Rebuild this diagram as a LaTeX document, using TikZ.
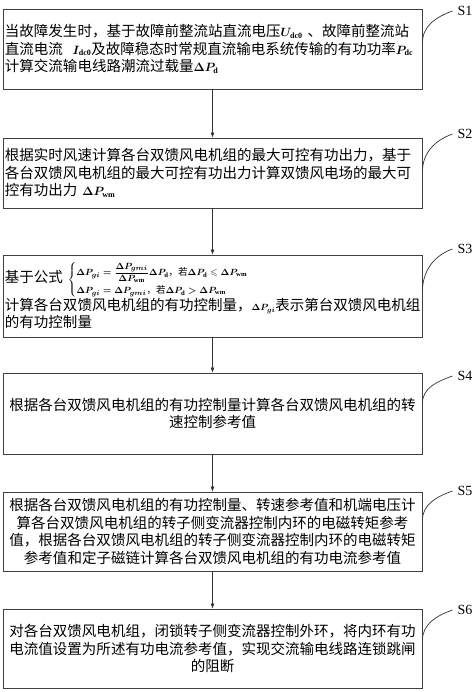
\documentclass[tikz,border=0pt]{standalone}
\usepackage{amsmath}
\usepackage{amssymb}
\usepackage{fontspec}
\setmainfont{Liberation Serif}
\newfontfamily\cjk{Noto Sans CJK SC}
\usetikzlibrary{arrows.meta}
\newcommand{\mq}[1]{{\fontsize{11.5}{12}\selectfont$#1$}}

\begin{document}
\begin{tikzpicture}[x=1pt, y=-1pt, >={Latex[length=5pt,width=4pt]},
  stepbox/.style={draw=black!75, line width=0.8pt, minimum width=419pt,
    inner xsep=2pt, text width=415pt, font=\cjk\fontsize{14.5}{17.5}\selectfont\boldmath},
  steplabel/.style={font=\fontsize{14}{16}\selectfont, inner sep=1pt},
  hook/.style={black!80, line width=0.7pt}]
  \useasboundingbox (0,0) rectangle (474,692);

  \node[stepbox, align=left, minimum height=80pt] (b1) at (212.5,49)
    {当故障发生时，基于故障前整流站直流电压\mq{U_{\mathrm{dc0}}} 、故障前整流站\\
     直流电流\ \ \mq{I_{\mathrm{dc0}}}及故障稳态时常规直流输电系统传输的有功功率\mq{P_{\mathrm{dc}}}\\
     计算交流输电线路潮流过载量\mq{\Delta P_{\mathrm{d}}}};
  \node[stepbox, align=left, minimum height=70pt] (b2) at (212.5,173)
    {根据实时风速计算各台双馈风电机组的最大可控有功出力，基于\\
     各台双馈风电机组的最大可控有功出力计算双馈风电场的最大可\\
     控有功出力 \mq{\Delta P_{\mathrm{wm}}}};
  \node[stepbox, align=left, minimum height=82pt] (b3) at (212.5,296)
    {基于公式 {\fontsize{9.5}{11}\selectfont$\left\{\begin{array}{@{}l@{}}
       \Delta P_{gi}=\dfrac{\Delta P_{gmi}}{\Delta P_{\mathrm{wm}}}\Delta P_{\mathrm{d}}\text{，若}\Delta P_{\mathrm{d}}\leqslant\Delta P_{\mathrm{wm}}\\[7pt]
       \Delta P_{gi}=\Delta P_{gmi}\text{，若}\Delta P_{\mathrm{d}}>\Delta P_{\mathrm{wm}}
     \end{array}\right.$}\\
     计算各台双馈风电机组的有功控制量，{\fontsize{9.5}{10}\selectfont$\Delta P_{gi}$}表示第台双馈风电机组\\
     的有功控制量};
  \node[stepbox, align=center, minimum height=81pt] (b4) at (212.5,413.5)
    {根据各台双馈风电机组的有功控制量计算各台双馈风电机组的转\\
     速控制参考值};
  \node[stepbox, align=center, minimum height=79pt] (b5) at (212.5,531.5)
    {根据各台双馈风电机组的有功控制量、转速参考值和机端电压计\\
     算各台双馈风电机组的转子侧变流器控制内环的电磁转矩参考\\
     值，根据各台双馈风电机组的转子侧变流器控制内环的电磁转矩\\
     参考值和定子磁链计算各台双馈风电机组的有功电流参考值};
  \node[stepbox, align=center, minimum height=79pt] (b6) at (212.5,648.5)
    {对各台双馈风电机组，闭锁转子侧变流器控制外环，将内环有功\\
     电流值设置为所述有功电流参考值，实现交流输电线路连锁跳闸\\
     的阻断};

  % step labels
  \node[steplabel] (s1) at (465,11) {S1};
  \node[steplabel] (s2) at (465,134) {S2};
  \node[steplabel] (s3) at (465,249) {S3};
  \node[steplabel] (s4) at (465,376) {S4};
  \node[steplabel] (s5) at (465,491) {S5};
  \node[steplabel] (s6) at (465,610) {S6};

  \draw[->, black!80, line width=0.7pt] (b1) -- (b2);
  \draw[->, black!80, line width=0.7pt] (b2) -- (b3);
  \draw[->, black!80, line width=0.7pt] (b3) -- (b4);
  \draw[->, black!80, line width=0.7pt] (b4) -- (b5);
  \draw[->, black!80, line width=0.7pt] (b5) -- (b6);

  \draw[hook] ([xshift=-4pt]s1.west) to[out=200, in=90] ([yshift=6pt]b1.east);
  \draw[hook] ([xshift=-4pt]s2.west) to[out=200, in=90] ([yshift=1pt]b2.east);
  \draw[hook] ([xshift=-4pt]s3.west) to[out=200, in=90] ([yshift=4pt]b3.east);
  \draw[hook] ([xshift=-4pt]s4.west) to[out=200, in=90] ([yshift=10pt]b4.east);
  \draw[hook] ([xshift=-4pt]s5.west) to[out=200, in=90] ([yshift=11pt]b5.east);
  \draw[hook] ([xshift=-4pt]s6.west) to[out=200, in=90] ([yshift=8pt]b6.east);
\end{tikzpicture}
\end{document}
